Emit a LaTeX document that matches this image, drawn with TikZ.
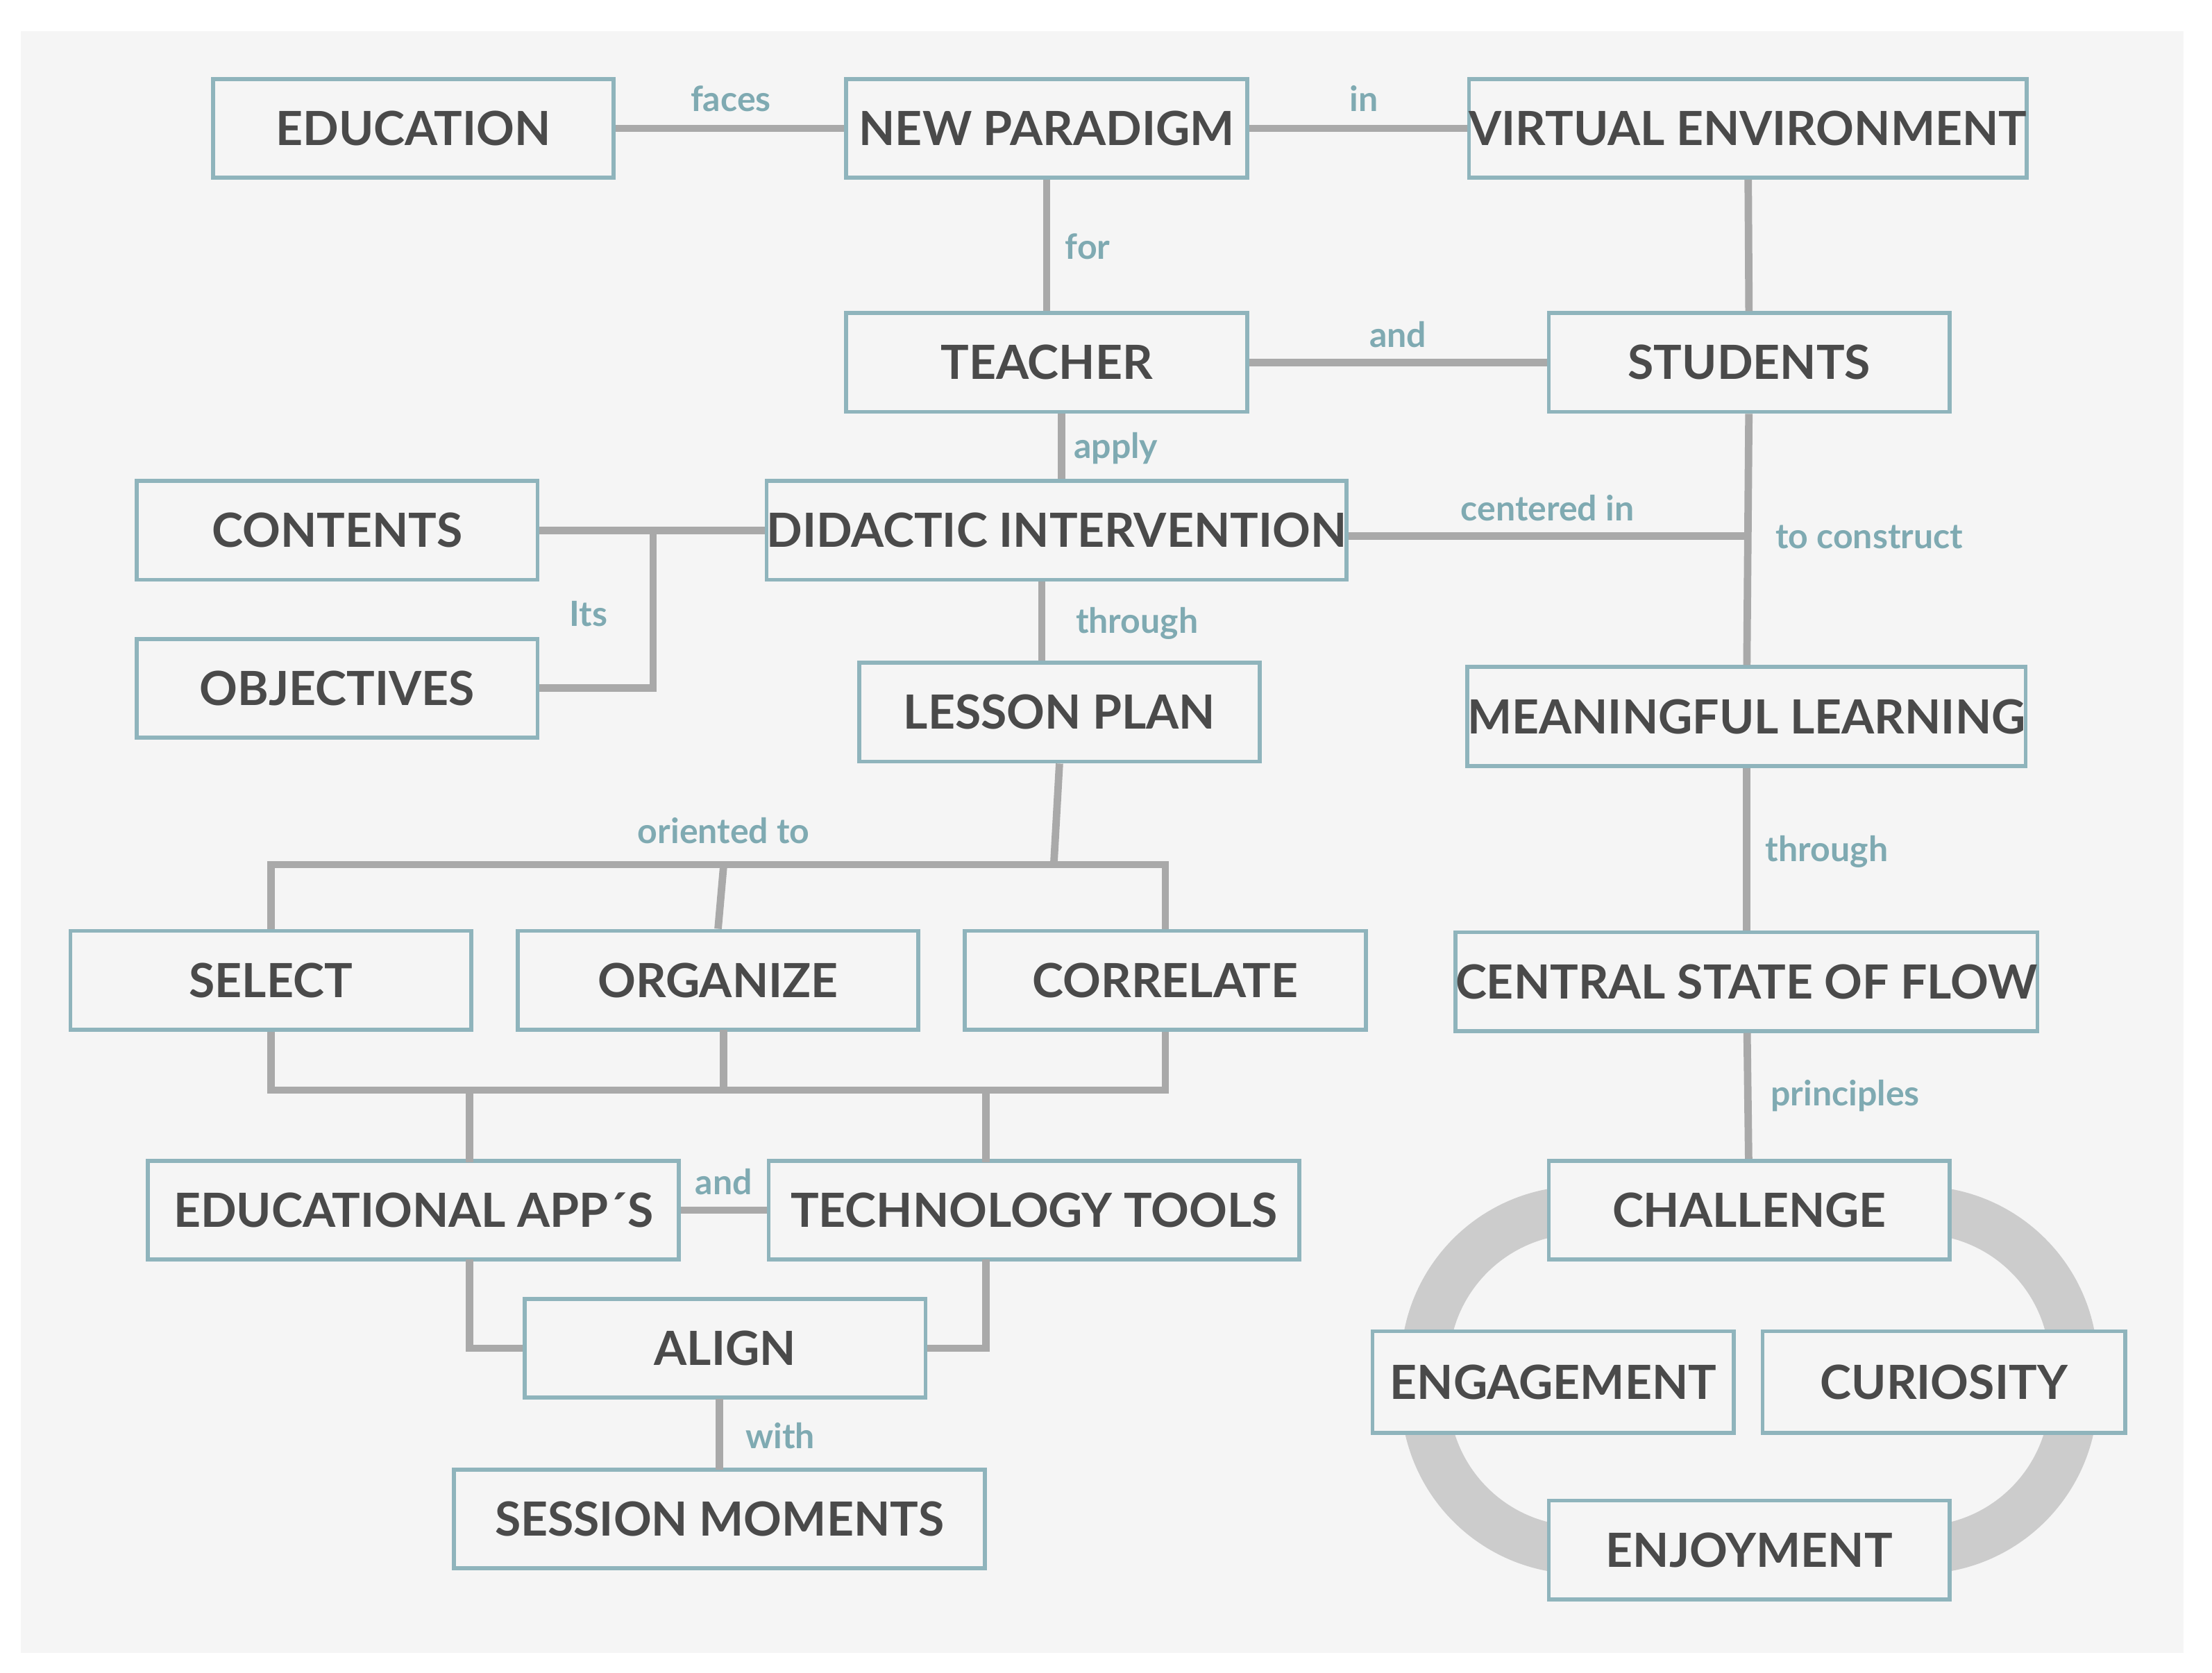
\documentclass[tikz,border=0pt]{standalone}
\usepackage{fontspec}
\setmainfont{Lato}
\definecolor{bx}{HTML}{8FB4BC}
\definecolor{tx}{HTML}{4A4A4A}
\definecolor{ln}{HTML}{A9A9A9}
\definecolor{lb}{HTML}{7FAAB2}
\definecolor{bg}{HTML}{F5F5F5}
\definecolor{ring}{HTML}{CCCCCC}
\begin{document}
\begin{tikzpicture}[x=0.01cm,y=-0.01cm,
 box/.style={draw=bx,line width=0.8pt,fill=bg,minimum width=2.84cm,minimum height=0.7cm,inner sep=0pt,font=\fontsize{9.5}{10}\selectfont\bfseries,text=tx},
 con/.style={draw=ln,line width=1.5pt},
 lab/.style={text=lb,font=\fontsize{7}{8}\selectfont\bfseries,inner sep=1pt}]
\useasboundingbox (0,0) rectangle (1568,1186);
\fill[white] (0,0) rectangle (1568,1186);
\fill[bg] (15,22) rectangle (1548,1172);
\draw[ring,line width=0.34cm,rounded corners=1.1cm] (1010,858) rectangle (1470,1099);
\node[box] (edu) at (293,91) {EDUCATION};
\node[box] (np) at (742,91) {NEW PARADIGM};
\node[box,minimum width=3.77cm] (ve) at (1239,91) {VIRTUAL ENVIRONMENT};
\node[box] (tea) at (742,257) {TEACHER};
\node[box] (stu) at (1240,257) {STUDENTS};
\node[box] (con) at (239,376) {CONTENTS};
\node[box,minimum width=4.03cm] (did) at (749,376) {DIDACTIC INTERVENTION};
\node[box] (obj) at (239,488) {OBJECTIVES};
\node[box] (les) at (751,505) {LESSON PLAN};
\node[box,minimum width=3.77cm] (mea) at (1238,508) {MEANINGFUL LEARNING};
\node[box] (sel) at (192,695) {SELECT};
\node[box] (org) at (509,695) {ORGANIZE};
\node[box] (cor) at (826,695) {CORRELATE};
\node[box,minimum width=4.07cm] (csf) at (1238,696) {CENTRAL STATE OF FLOW};
\node[box,minimum width=3.76cm] (app) at (293,858) {EDUCATIONAL APP´S};
\node[box,minimum width=3.76cm] (tec) at (733,858) {TECHNOLOGY TOOLS};
\node[box] (ali) at (514,956) {ALIGN};
\node[box,minimum width=3.76cm] (ses) at (510,1077) {SESSION MOMENTS};
\node[box] (cha) at (1240,858) {CHALLENGE};
\node[box,minimum width=2.56cm,minimum height=0.72cm] (eng) at (1101,980) {ENGAGEMENT};
\node[box,minimum width=2.57cm,minimum height=0.72cm] (cur) at (1378,980) {CURIOSITY};
\node[box] (enj) at (1240,1099) {ENJOYMENT};
\coordinate (jc) at (1239,380);
\coordinate (jl) at (747,613);
\coordinate (jb) at (513,773);
\draw[con] (edu) -- (np);
\draw[con] (np) -- (ve);
\draw[con] (np) -- (tea);
\draw[con] (ve) -- (stu);
\draw[con] (tea) -- (stu);
\draw[con] ([xshift=3]tea.south) -- ([xshift=3]did.north -| tea.south);
\draw[con] (did.east |- jc) -- (jc);
\draw[con] (stu) -- (mea);
\draw[con] (con.east) -- (463,376) |- (obj.east);
\draw[con] (463,376) -- (did.west);
\draw[con] ([xshift=-3]did.south) -- ([xshift=-3]les.north -| did.south);
\draw[con] (les.south) -- (jl);
\draw[con] (sel.north) |- (jl) -| (cor.north);
\draw[con] (org.north) -- (513,613);
\draw[con] (sel.south) |- (jb) -| (cor.south);
\draw[con] (513,730) -- (jb);
\draw[con] (333,773) -- (333,824);
\draw[con] (699,773) -- (699,824);
\draw[con] (app) -- (tec);
\draw[con] (333,893) |- (ali.west);
\draw[con] (699,893) |- (ali.east);
\draw[con] (510,992) -- (510,1042);
\draw[con] (mea) -- (csf);
\draw[con] (csf) -- (cha);
\node[lab] (l1) at (518,70) {faces};
\node[lab] (l2) at (967,70) {in};
\node[lab] (l3) at (771,175) {for};
\node[lab] (l4) at (991,237) {and};
\node[lab] (l5) at (791,318) {apply};
\node[lab] (l6) at (1097,360) {centered in};
\node[lab] (l7) at (1325,381) {to construct};
\node[lab] (l8) at (417,435) {Its};
\node[lab] (l9) at (806,442) {through};
\node[lab] (l10) at (513,589) {oriented to};
\node[lab] (l11) at (513,838) {and};
\node[lab] (l12) at (553,1018) {with};
\node[lab] (l13) at (1295,604) {through};
\node[lab] (l14) at (1308,777) {principles};
\end{tikzpicture}
\end{document}
